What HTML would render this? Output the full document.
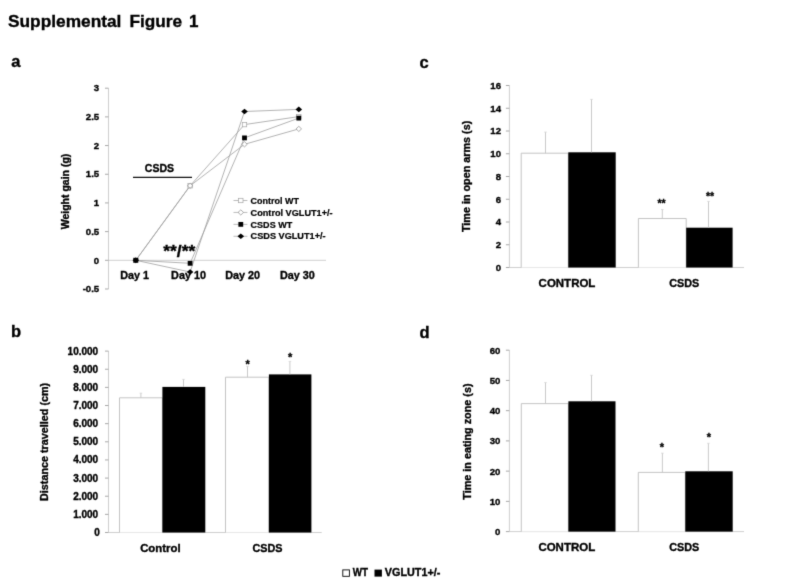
<!DOCTYPE html>
<html><head><meta charset="utf-8"><title>Supplemental Figure 1</title>
<style>
html,body{margin:0;padding:0;background:#fff;}
svg{display:block;}
text{fill:#000;stroke:#000;stroke-width:0.35px;}
</style></head>
<body>
<svg width="785" height="588" viewBox="0 0 785 588" font-family="'Liberation Sans', Arial, Helvetica, sans-serif" font-weight="bold">
<defs><filter id="soft" x="0" y="0" width="785" height="588" filterUnits="userSpaceOnUse" color-interpolation-filters="sRGB"><feConvolveMatrix order="3" kernelMatrix="0.015 0.085 0.015 0.085 0.6 0.085 0.015 0.085 0.015" edgeMode="duplicate" preserveAlpha="true"/></filter></defs>
<g filter="url(#soft)">
<rect width="785" height="588" fill="#fff"/>
<text x="8" y="27" font-size="17" text-anchor="start" textLength="113.4" lengthAdjust="spacingAndGlyphs">Supplemental</text>
<text x="129.4" y="27" font-size="17" text-anchor="start" textLength="52.6" lengthAdjust="spacingAndGlyphs">Figure</text>
<text x="189.1" y="27" font-size="17" text-anchor="start" >1</text>
<text x="11.2" y="66.9" font-size="16.5" text-anchor="start" >a</text>
<text x="11" y="337" font-size="16.5" text-anchor="start" >b</text>
<text x="419.5" y="67.7" font-size="16.5" text-anchor="start" >c</text>
<text x="419.5" y="337.7" font-size="16.5" text-anchor="start" >d</text>
<line x1="108.5" y1="88.19" x2="108.5" y2="288.99" stroke="#cfcfcf" stroke-width="1"/>
<line x1="108.5" y1="260.3" x2="326" y2="260.3" stroke="#cfcfcf" stroke-width="1"/>
<line x1="105" y1="88.19" x2="108.5" y2="88.19" stroke="#a8a8a8" stroke-width="1"/>
<text x="99.2" y="91.39" font-size="9.6" text-anchor="end" >3</text>
<line x1="105" y1="116.88" x2="108.5" y2="116.88" stroke="#a8a8a8" stroke-width="1"/>
<text x="99.2" y="120.08" font-size="9.6" text-anchor="end" >2.5</text>
<line x1="105" y1="145.56" x2="108.5" y2="145.56" stroke="#a8a8a8" stroke-width="1"/>
<text x="99.2" y="148.76" font-size="9.6" text-anchor="end" >2</text>
<line x1="105" y1="174.25" x2="108.5" y2="174.25" stroke="#a8a8a8" stroke-width="1"/>
<text x="99.2" y="177.44" font-size="9.6" text-anchor="end" >1.5</text>
<line x1="105" y1="202.93" x2="108.5" y2="202.93" stroke="#a8a8a8" stroke-width="1"/>
<text x="99.2" y="206.13" font-size="9.6" text-anchor="end" >1</text>
<line x1="105" y1="231.62" x2="108.5" y2="231.62" stroke="#a8a8a8" stroke-width="1"/>
<text x="99.2" y="234.81" font-size="9.6" text-anchor="end" >0.5</text>
<line x1="105" y1="260.3" x2="108.5" y2="260.3" stroke="#a8a8a8" stroke-width="1"/>
<text x="99.2" y="263.5" font-size="9.6" text-anchor="end" >0</text>
<line x1="105" y1="288.99" x2="108.5" y2="288.99" stroke="#a8a8a8" stroke-width="1"/>
<text x="99.2" y="292.19" font-size="9.6" text-anchor="end" >-0.5</text>
<text transform="translate(69,191.5) rotate(-90)" font-size="10.5" text-anchor="middle">Weight gain (g)</text>
<text x="134.6" y="278.7" font-size="10.8" text-anchor="middle" >Day 1</text>
<text x="188.5" y="278.7" font-size="10.8" text-anchor="middle" >Day 10</text>
<text x="242.6" y="278.7" font-size="10.8" text-anchor="middle" >Day 20</text>
<text x="297.4" y="278.7" font-size="10.8" text-anchor="middle" >Day 30</text>
<text x="159.4" y="172.4" font-size="10.5" text-anchor="middle" >CSDS</text>
<line x1="133" y1="177.3" x2="192" y2="177.3" stroke="#111" stroke-width="1.2"/>
<polyline points="135.8,260.3 190.1,185.8 244.5,124.6 298.8,116.6" fill="none" stroke="#a0a0a0" stroke-width="0.8"/>
<polyline points="135.8,260.3 190.1,185.8 244.5,144.3 298.8,128.9" fill="none" stroke="#a0a0a0" stroke-width="0.8"/>
<polyline points="135.8,260.3 190.1,263.3 244.5,137.9 298.8,118.1" fill="none" stroke="#a0a0a0" stroke-width="0.8"/>
<polyline points="135.8,260.3 190.1,272.0 244.5,111.5 298.8,109.4" fill="none" stroke="#a0a0a0" stroke-width="0.8"/>
<polygon points="135.8,257.7 138.55,260.3 135.8,262.90000000000003 133.05,260.3" fill="white"/>
<polygon points="190.1,183.20000000000002 192.85,185.8 190.1,188.4 187.35,185.8" fill="white"/>
<polygon points="244.5,141.70000000000002 247.25,144.3 244.5,146.9 241.75,144.3" fill="white"/>
<polygon points="298.8,126.30000000000001 301.55,128.9 298.8,131.5 296.05,128.9" fill="white"/>
<rect x="133.6" y="258.1" width="4.4" height="4.4" fill="white" stroke="none" stroke-width="1"/>
<rect x="187.9" y="183.6" width="4.4" height="4.4" fill="white" stroke="none" stroke-width="1"/>
<rect x="242.3" y="122.4" width="4.4" height="4.4" fill="white" stroke="none" stroke-width="1"/>
<rect x="296.6" y="114.4" width="4.4" height="4.4" fill="white" stroke="none" stroke-width="1"/>
<polygon points="135.8,257.7 138.55,260.3 135.8,262.90000000000003 133.05,260.3" fill="none" stroke="#8a8a8a" stroke-width="0.7"/>
<polygon points="190.1,183.20000000000002 192.85,185.8 190.1,188.4 187.35,185.8" fill="none" stroke="#8a8a8a" stroke-width="0.7"/>
<polygon points="244.5,141.70000000000002 247.25,144.3 244.5,146.9 241.75,144.3" fill="none" stroke="#8a8a8a" stroke-width="0.7"/>
<polygon points="298.8,126.30000000000001 301.55,128.9 298.8,131.5 296.05,128.9" fill="none" stroke="#8a8a8a" stroke-width="0.7"/>
<rect x="133.6" y="258.1" width="4.4" height="4.4" fill="none" stroke="#a4a4a4" stroke-width="0.7"/>
<rect x="187.9" y="183.6" width="4.4" height="4.4" fill="none" stroke="#a4a4a4" stroke-width="0.7"/>
<rect x="242.3" y="122.4" width="4.4" height="4.4" fill="none" stroke="#a4a4a4" stroke-width="0.7"/>
<rect x="296.6" y="114.4" width="4.4" height="4.4" fill="none" stroke="#a4a4a4" stroke-width="0.7"/>
<rect x="133.4" y="257.9" width="4.8" height="4.8" fill="black" stroke="none" stroke-width="1"/>
<rect x="187.7" y="260.9" width="4.8" height="4.8" fill="black" stroke="none" stroke-width="1"/>
<rect x="242.1" y="135.5" width="4.8" height="4.8" fill="black" stroke="none" stroke-width="1"/>
<rect x="296.4" y="115.7" width="4.8" height="4.8" fill="black" stroke="none" stroke-width="1"/>
<polygon points="135.8,257.5 139.10000000000002,260.3 135.8,263.1 132.5,260.3" fill="black"/>
<polygon points="190.1,269.2 193.4,272.0 190.1,274.8 186.79999999999998,272.0" fill="black"/>
<polygon points="244.5,108.7 247.8,111.5 244.5,114.3 241.2,111.5" fill="black"/>
<polygon points="298.8,106.60000000000001 302.1,109.4 298.8,112.2 295.5,109.4" fill="black"/>
<text x="163.3" y="256.9" font-size="16" text-anchor="start" textLength="31.9" lengthAdjust="spacingAndGlyphs">**/**</text>
<line x1="233.5" y1="200.5" x2="247.4" y2="200.5" stroke="#aaa" stroke-width="0.8"/>
<rect x="238.6" y="198.3" width="4.4" height="4.4" fill="white" stroke="none" stroke-width="1"/>
<rect x="238.6" y="198.3" width="4.4" height="4.4" fill="none" stroke="#a4a4a4" stroke-width="0.7"/>
<text x="250.6" y="203.7" font-size="8.2" text-anchor="start" textLength="48.3" lengthAdjust="spacingAndGlyphs" style="stroke-width:0.2px">Control WT</text>
<line x1="233.5" y1="212.43" x2="247.4" y2="212.43" stroke="#aaa" stroke-width="0.8"/>
<polygon points="240.8,209.83 243.55,212.43 240.8,215.03 238.05,212.43" fill="white"/>
<polygon points="240.8,209.83 243.55,212.43 240.8,215.03 238.05,212.43" fill="none" stroke="#8a8a8a" stroke-width="0.7"/>
<text x="250.6" y="215.63" font-size="8.2" text-anchor="start" textLength="82" lengthAdjust="spacingAndGlyphs" style="stroke-width:0.2px">Control VGLUT1+/-</text>
<line x1="233.5" y1="224.36" x2="247.4" y2="224.36" stroke="#aaa" stroke-width="0.8"/>
<rect x="238.4" y="221.96" width="4.8" height="4.8" fill="black" stroke="none" stroke-width="1"/>
<text x="250.6" y="227.56" font-size="8.2" text-anchor="start" textLength="41.6" lengthAdjust="spacingAndGlyphs" style="stroke-width:0.2px">CSDS WT</text>
<line x1="233.5" y1="236.29" x2="247.4" y2="236.29" stroke="#aaa" stroke-width="0.8"/>
<polygon points="240.8,233.48999999999998 244.10000000000002,236.29 240.8,239.09 237.5,236.29" fill="black"/>
<text x="250.6" y="239.49" font-size="8.2" text-anchor="start" textLength="75" lengthAdjust="spacingAndGlyphs" style="stroke-width:0.2px">CSDS VGLUT1+/-</text>
<line x1="108.5" y1="351.1" x2="108.5" y2="532.5" stroke="#cfcfcf" stroke-width="1"/>
<line x1="108.5" y1="532.5" x2="321.7" y2="532.5" stroke="#cfcfcf" stroke-width="1"/>
<line x1="105" y1="532.5" x2="108.5" y2="532.5" stroke="#a8a8a8" stroke-width="1"/>
<text x="99.9" y="536.05" font-size="10" text-anchor="end" >0</text>
<line x1="105" y1="514.36" x2="108.5" y2="514.36" stroke="#a8a8a8" stroke-width="1"/>
<text x="98.2" y="517.91" font-size="10" text-anchor="end" >1.000</text>
<line x1="105" y1="496.22" x2="108.5" y2="496.22" stroke="#a8a8a8" stroke-width="1"/>
<text x="98.2" y="499.77" font-size="10" text-anchor="end" >2.000</text>
<line x1="105" y1="478.08" x2="108.5" y2="478.08" stroke="#a8a8a8" stroke-width="1"/>
<text x="98.2" y="481.63" font-size="10" text-anchor="end" >3.000</text>
<line x1="105" y1="459.94" x2="108.5" y2="459.94" stroke="#a8a8a8" stroke-width="1"/>
<text x="98.2" y="463.49" font-size="10" text-anchor="end" >4.000</text>
<line x1="105" y1="441.8" x2="108.5" y2="441.8" stroke="#a8a8a8" stroke-width="1"/>
<text x="98.2" y="445.35" font-size="10" text-anchor="end" >5.000</text>
<line x1="105" y1="423.66" x2="108.5" y2="423.66" stroke="#a8a8a8" stroke-width="1"/>
<text x="98.2" y="427.21" font-size="10" text-anchor="end" >6.000</text>
<line x1="105" y1="405.52" x2="108.5" y2="405.52" stroke="#a8a8a8" stroke-width="1"/>
<text x="98.2" y="409.07" font-size="10" text-anchor="end" >7.000</text>
<line x1="105" y1="387.38" x2="108.5" y2="387.38" stroke="#a8a8a8" stroke-width="1"/>
<text x="98.2" y="390.93" font-size="10" text-anchor="end" >8.000</text>
<line x1="105" y1="369.24" x2="108.5" y2="369.24" stroke="#a8a8a8" stroke-width="1"/>
<text x="98.2" y="372.79" font-size="10" text-anchor="end" >9.000</text>
<line x1="105" y1="351.1" x2="108.5" y2="351.1" stroke="#a8a8a8" stroke-width="1"/>
<text x="98.2" y="354.65" font-size="10" text-anchor="end" >10.000</text>
<path d="M119.5,532.5 V397.8 H162.4 V532.5" fill="white" stroke="#bdbdbd" stroke-width="0.9"/>
<line x1="140.9" y1="397.8" x2="140.9" y2="393.2" stroke="#c4c4c4" stroke-width="0.9"/>
<line x1="139.6" y1="393.2" x2="142.2" y2="393.2" stroke="#d4d4d4" stroke-width="0.8"/>
<rect x="162.4" y="386.9" width="42.9" height="145.6" fill="black" stroke="none" stroke-width="1"/>
<line x1="183.5" y1="386.9" x2="183.5" y2="379.4" stroke="#c4c4c4" stroke-width="0.9"/>
<line x1="182.2" y1="379.4" x2="184.8" y2="379.4" stroke="#d4d4d4" stroke-width="0.8"/>
<path d="M225.5,532.5 V377.2 H268.9 V532.5" fill="white" stroke="#bdbdbd" stroke-width="0.9"/>
<line x1="247.5" y1="377.2" x2="247.5" y2="366.3" stroke="#c4c4c4" stroke-width="0.9"/>
<line x1="246.2" y1="366.3" x2="248.8" y2="366.3" stroke="#d4d4d4" stroke-width="0.8"/>
<text x="247.7" y="368.1" font-size="11" text-anchor="middle" >*</text>
<rect x="268.9" y="374.4" width="42.5" height="158.1" fill="black" stroke="none" stroke-width="1"/>
<line x1="289.9" y1="374.4" x2="289.9" y2="361.4" stroke="#c4c4c4" stroke-width="0.9"/>
<line x1="288.6" y1="361.4" x2="291.2" y2="361.4" stroke="#d4d4d4" stroke-width="0.8"/>
<text x="290.2" y="361.3" font-size="11" text-anchor="middle" >*</text>
<text x="160.4" y="551.5" font-size="10.8" text-anchor="middle" textLength="40.5" lengthAdjust="spacingAndGlyphs">Control</text>
<text x="267.4" y="551.5" font-size="10.8" text-anchor="middle" >CSDS</text>
<text transform="translate(48.4,441.9) rotate(-90)" font-size="10.8" text-anchor="middle">Distance travelled (cm)</text>
<line x1="509.4" y1="85.5" x2="509.4" y2="267.5" stroke="#cfcfcf" stroke-width="1"/>
<line x1="509.4" y1="267.5" x2="744" y2="267.5" stroke="#cfcfcf" stroke-width="1"/>
<line x1="505.9" y1="267.5" x2="509.4" y2="267.5" stroke="#a8a8a8" stroke-width="1"/>
<text x="501" y="270.91" font-size="9.6" text-anchor="end" >0</text>
<line x1="505.9" y1="244.75" x2="509.4" y2="244.75" stroke="#a8a8a8" stroke-width="1"/>
<text x="501" y="248.16" font-size="9.6" text-anchor="end" >2</text>
<line x1="505.9" y1="222" x2="509.4" y2="222" stroke="#a8a8a8" stroke-width="1"/>
<text x="501" y="225.41" font-size="9.6" text-anchor="end" >4</text>
<line x1="505.9" y1="199.25" x2="509.4" y2="199.25" stroke="#a8a8a8" stroke-width="1"/>
<text x="501" y="202.66" font-size="9.6" text-anchor="end" >6</text>
<line x1="505.9" y1="176.5" x2="509.4" y2="176.5" stroke="#a8a8a8" stroke-width="1"/>
<text x="501" y="179.91" font-size="9.6" text-anchor="end" >8</text>
<line x1="505.9" y1="153.75" x2="509.4" y2="153.75" stroke="#a8a8a8" stroke-width="1"/>
<text x="501" y="157.16" font-size="9.6" text-anchor="end" >10</text>
<line x1="505.9" y1="131" x2="509.4" y2="131" stroke="#a8a8a8" stroke-width="1"/>
<text x="501" y="134.41" font-size="9.6" text-anchor="end" >12</text>
<line x1="505.9" y1="108.25" x2="509.4" y2="108.25" stroke="#a8a8a8" stroke-width="1"/>
<text x="501" y="111.66" font-size="9.6" text-anchor="end" >14</text>
<line x1="505.9" y1="85.5" x2="509.4" y2="85.5" stroke="#a8a8a8" stroke-width="1"/>
<text x="501" y="88.91" font-size="9.6" text-anchor="end" >16</text>
<path d="M521.2,267.5 V153.2 H568.3 V267.5" fill="white" stroke="#bdbdbd" stroke-width="0.9"/>
<line x1="545.5" y1="153.2" x2="545.5" y2="132.1" stroke="#c4c4c4" stroke-width="0.9"/>
<line x1="544.2" y1="132.1" x2="546.8" y2="132.1" stroke="#d4d4d4" stroke-width="0.8"/>
<rect x="568.3" y="152.3" width="47.4" height="115.2" fill="black" stroke="none" stroke-width="1"/>
<line x1="591.5" y1="152.3" x2="591.5" y2="99.4" stroke="#c4c4c4" stroke-width="0.9"/>
<line x1="590.2" y1="99.4" x2="592.8" y2="99.4" stroke="#d4d4d4" stroke-width="0.8"/>
<path d="M638.4,267.5 V218.5 H686.2 V267.5" fill="white" stroke="#bdbdbd" stroke-width="0.9"/>
<line x1="662.3" y1="218.5" x2="662.3" y2="209.5" stroke="#c4c4c4" stroke-width="0.9"/>
<line x1="661" y1="209.5" x2="663.6" y2="209.5" stroke="#d4d4d4" stroke-width="0.8"/>
<text x="661.6" y="207.4" font-size="10.5" text-anchor="middle" >**</text>
<rect x="686.2" y="227.7" width="46.4" height="39.8" fill="black" stroke="none" stroke-width="1"/>
<line x1="708.5" y1="227.7" x2="708.5" y2="201.4" stroke="#c4c4c4" stroke-width="0.9"/>
<line x1="707.2" y1="201.4" x2="709.8" y2="201.4" stroke="#d4d4d4" stroke-width="0.8"/>
<text x="710.1" y="200.2" font-size="10.5" text-anchor="middle" >**</text>
<text x="567" y="287" font-size="10.8" text-anchor="middle" textLength="56.8" lengthAdjust="spacingAndGlyphs">CONTROL</text>
<text x="684.2" y="287" font-size="10.8" text-anchor="middle" >CSDS</text>
<text transform="translate(470.3,176.4) rotate(-90)" font-size="10.8" text-anchor="middle">Time in open arms (s)</text>
<line x1="509.4" y1="350.2" x2="509.4" y2="531.6" stroke="#cfcfcf" stroke-width="1"/>
<line x1="509.4" y1="531.6" x2="744" y2="531.6" stroke="#cfcfcf" stroke-width="1"/>
<line x1="505.9" y1="531.6" x2="509.4" y2="531.6" stroke="#a8a8a8" stroke-width="1"/>
<text x="500.3" y="535.01" font-size="9.6" text-anchor="end" >0</text>
<line x1="505.9" y1="501.37" x2="509.4" y2="501.37" stroke="#a8a8a8" stroke-width="1"/>
<text x="500.3" y="504.77" font-size="9.6" text-anchor="end" >10</text>
<line x1="505.9" y1="471.13" x2="509.4" y2="471.13" stroke="#a8a8a8" stroke-width="1"/>
<text x="500.3" y="474.54" font-size="9.6" text-anchor="end" >20</text>
<line x1="505.9" y1="440.9" x2="509.4" y2="440.9" stroke="#a8a8a8" stroke-width="1"/>
<text x="500.3" y="444.31" font-size="9.6" text-anchor="end" >30</text>
<line x1="505.9" y1="410.67" x2="509.4" y2="410.67" stroke="#a8a8a8" stroke-width="1"/>
<text x="500.3" y="414.07" font-size="9.6" text-anchor="end" >40</text>
<line x1="505.9" y1="380.43" x2="509.4" y2="380.43" stroke="#a8a8a8" stroke-width="1"/>
<text x="500.3" y="383.84" font-size="9.6" text-anchor="end" >50</text>
<line x1="505.9" y1="350.2" x2="509.4" y2="350.2" stroke="#a8a8a8" stroke-width="1"/>
<text x="500.3" y="353.61" font-size="9.6" text-anchor="end" >60</text>
<path d="M521.3,531.6 V403.6 H568.4 V531.6" fill="white" stroke="#bdbdbd" stroke-width="0.9"/>
<line x1="545.5" y1="403.6" x2="545.5" y2="382.6" stroke="#c4c4c4" stroke-width="0.9"/>
<line x1="544.2" y1="382.6" x2="546.8" y2="382.6" stroke="#d4d4d4" stroke-width="0.8"/>
<rect x="568.4" y="401.3" width="47.1" height="130.3" fill="black" stroke="none" stroke-width="1"/>
<line x1="591.5" y1="401.3" x2="591.5" y2="375.3" stroke="#c4c4c4" stroke-width="0.9"/>
<line x1="590.2" y1="375.3" x2="592.8" y2="375.3" stroke="#d4d4d4" stroke-width="0.8"/>
<path d="M638.3,531.6 V472.4 H685.3 V531.6" fill="white" stroke="#bdbdbd" stroke-width="0.9"/>
<line x1="662.4" y1="472.4" x2="662.4" y2="453.2" stroke="#c4c4c4" stroke-width="0.9"/>
<line x1="661.1" y1="453.2" x2="663.7" y2="453.2" stroke="#d4d4d4" stroke-width="0.8"/>
<text x="661.8" y="451.4" font-size="11" text-anchor="middle" >*</text>
<rect x="685.3" y="471.3" width="47.4" height="60.3" fill="black" stroke="none" stroke-width="1"/>
<line x1="708.4" y1="471.3" x2="708.4" y2="443.3" stroke="#c4c4c4" stroke-width="0.9"/>
<line x1="707.1" y1="443.3" x2="709.7" y2="443.3" stroke="#d4d4d4" stroke-width="0.8"/>
<text x="708.9" y="441" font-size="11" text-anchor="middle" >*</text>
<text x="566.8" y="550.6" font-size="10.8" text-anchor="middle" textLength="56.8" lengthAdjust="spacingAndGlyphs">CONTROL</text>
<text x="684.3" y="550.6" font-size="10.8" text-anchor="middle" >CSDS</text>
<text transform="translate(470.5,441.6) rotate(-90)" font-size="10.8" text-anchor="middle">Time in eating zone (s)</text>
<rect x="342.8" y="569.9" width="6.6" height="6.4" fill="white" stroke="black" stroke-width="0.9"/>
<text x="352.8" y="576.3" font-size="10.7" text-anchor="start" textLength="15.2" lengthAdjust="spacingAndGlyphs">WT</text>
<rect x="374.5" y="569.6" width="7.4" height="7" fill="black" stroke="none" stroke-width="1"/>
<text x="384.8" y="576.4" font-size="10.7" text-anchor="start" textLength="55.5" lengthAdjust="spacingAndGlyphs">VGLUT1+/-</text>
</g>
</svg>
</body></html>
